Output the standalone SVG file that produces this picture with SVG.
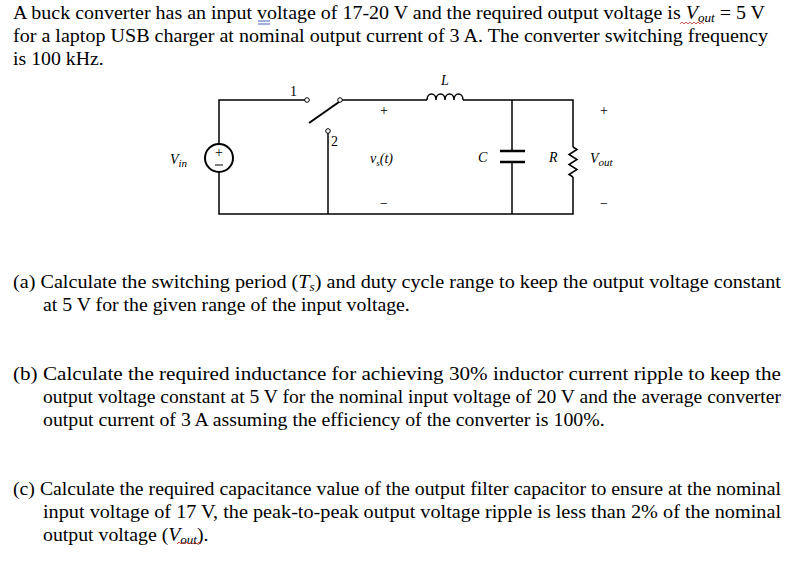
<svg xmlns="http://www.w3.org/2000/svg" width="808" height="561" viewBox="0 0 808 561">
<style>
.t{font-family:"Liberation Serif",serif;font-size:19.8px;fill:#000}
.c{font-family:"Liberation Serif",serif;font-size:14px;fill:#000}
.w{fill:none;stroke:#000;stroke-width:1.5}
</style>
<rect width="808" height="561" fill="#fff"/>
<g id="text">
<text class="t" x="13" y="19" textLength="752" lengthAdjust="spacingAndGlyphs">A buck converter has an input voltage of 17-20 V and the required output voltage is <tspan font-style="italic">V</tspan><tspan font-style="italic" font-size="13" dy="3">out</tspan><tspan dy="-3"> = 5 V</tspan></text>
<line x1="258" y1="21" x2="270" y2="21" stroke="#4060c0" stroke-width="1"/>
<line x1="258" y1="24" x2="270" y2="24" stroke="#4060c0" stroke-width="1"/>
<path d="M680 24 l2 -2 l2 2 l2 -2 l2 2 l2 -2 l2 2 l2 -2 l2 2 l2 -2 l2 2 l2 -2 l2 2" fill="none" stroke="#c03030" stroke-width="0.8"/>
<text class="t" x="13" y="42" textLength="755" lengthAdjust="spacingAndGlyphs">for a laptop USB charger at nominal output current of 3 A. The converter switching frequency</text>
<text class="t" x="13" y="65">is 100 kHz.</text>
<text class="t" x="13" y="288" textLength="768" lengthAdjust="spacingAndGlyphs">(a) Calculate the switching period (<tspan font-style="italic">T</tspan><tspan font-style="italic" font-size="13" dy="3">s</tspan><tspan dy="-3">) and duty cycle range to keep the output voltage constant</tspan></text>
<text class="t" x="43" y="311">at 5 V for the given range of the input voltage.</text>
<text class="t" x="13" y="380" textLength="768" lengthAdjust="spacingAndGlyphs">(b) Calculate the required inductance for achieving 30% inductor current ripple to keep the</text>
<text class="t" x="43" y="403" textLength="738" lengthAdjust="spacingAndGlyphs">output voltage constant at 5 V for the nominal input voltage of 20 V and the average converter</text>
<text class="t" x="43" y="426">output current of 3 A assuming the efficiency of the converter is 100%.</text>
<text class="t" x="13" y="495" textLength="768" lengthAdjust="spacingAndGlyphs">(c) Calculate the required capacitance value of the output filter capacitor to ensure at the nominal</text>
<text class="t" x="43" y="518" textLength="738" lengthAdjust="spacingAndGlyphs">input voltage of 17 V, the peak-to-peak output voltage ripple is less than 2% of the nominal</text>
<text class="t" x="43" y="541">output voltage (<tspan font-style="italic">V</tspan><tspan font-style="italic" font-size="13" dy="3">out</tspan><tspan dy="-3">).</tspan></text>
<path d="M177 544 l2 -2 l2 2 l2 -2 l2 2 l2 -2 l2 2 l2 -2 l2 2 l2 -2 l2 2 l2 -2 l2 2" fill="none" stroke="#c03030" stroke-width="0.8"/>
</g>
<g id="connectors">
<path class="w" d="M219 144 V100 H305 M342 100 H427 M468 100 H573 V147 M573 177 V214 H219 V172 M328 133 V214 M512 100 V151 M512 162 V214"/>
<line x1="309" y1="123" x2="339" y2="102" stroke="#000" stroke-width="2"/>
</g>
<g id="source">
<circle cx="219" cy="158" r="14" fill="#fff" stroke="#000" stroke-width="2"/>
<text class="c" x="219" y="157" text-anchor="middle" font-size="12">+</text>
<line x1="215" y1="165" x2="223" y2="165" stroke="#000" stroke-width="1"/>
<text class="c" x="170" y="164" font-style="italic" font-size="16">V<tspan font-size="11" dy="3">in</tspan></text>
</g>
<g id="switch">
<circle cx="307" cy="100" r="2.3" fill="#fff" stroke="#000" stroke-width="1"/>
<circle cx="340" cy="100" r="2.3" fill="#fff" stroke="#000" stroke-width="1"/>
<circle cx="328" cy="131" r="2.3" fill="#fff" stroke="#000" stroke-width="1"/>
<text class="c" x="290" y="96" font-size="11">1</text>
<text class="c" x="331" y="146" font-size="12">2</text>
</g>
<g id="inductor">
<path class="w" d="M427 100 c0 -8 9 -8 9 0 c0 -8 9 -8 9 0 c0 -8 9 -8 9 0 c0 -8 9 -8 9 0 M463 100 H468"/>
<text class="c" x="445" y="85" font-style="italic" text-anchor="middle">L</text>
</g>
<g id="vs">
<text class="c" x="384" y="115" text-anchor="middle" font-size="12">+</text>
<text class="c" x="370" y="163" font-style="italic" font-size="13">v<tspan font-size="9" dy="3">s</tspan><tspan dy="-3">(t)</tspan></text>
<text class="c" x="384" y="208" text-anchor="middle" font-size="12">−</text>
</g>
<g id="capacitor">
<line x1="500" y1="151" x2="525" y2="151" stroke="#000" stroke-width="2.5"/>
<line x1="500" y1="162" x2="525" y2="162" stroke="#000" stroke-width="2.5"/>
<text class="c" x="478" y="162" font-style="italic">C</text>
</g>
<g id="resistor">
<path class="w" d="M573 147 l4 2.5 l-8 5 l8 5 l-8 5 l8 5 l-8 5 l4 2.5"/>
<text class="c" x="549" y="162" font-style="italic">R</text>
<text class="c" x="590" y="163" font-style="italic" font-size="16">V<tspan font-size="11" dy="3">out</tspan></text>
<text class="c" x="604" y="115" text-anchor="middle" font-size="12">+</text>
<text class="c" x="604" y="208" text-anchor="middle" font-size="12">−</text>
</g>
</svg>
